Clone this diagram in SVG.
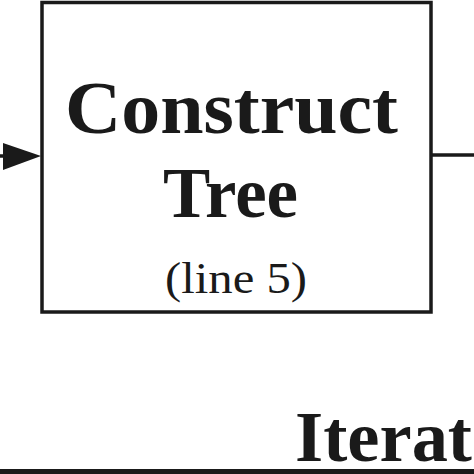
<svg xmlns="http://www.w3.org/2000/svg" width="474" height="474" viewBox="0 0 474 474">
<style>
.ln{stroke:#1a1a1a;stroke-width:3.5;fill:none}
.t{font-family:"Liberation Serif","Times New Roman",serif;fill:#1a1a1a}
.b{font-weight:bold}
</style>
<rect width="474" height="474" fill="#fff"/>
<g id="connectors">
<line class="ln" x1="0" y1="156" x2="10" y2="156"/>
<polygon points="3,143 41,156 3,170" fill="#1a1a1a"/>
<line class="ln" x1="431" y1="155" x2="474" y2="155"/>
</g>
<g id="construct-tree">
<rect class="ln" x="42" y="2.5" width="389" height="309.5"/>
<text class="t b" x="231.5" y="133" font-size="75" text-anchor="middle" textLength="333" lengthAdjust="spacingAndGlyphs">Construct</text>
<text class="t b" x="230.5" y="217" font-size="72" text-anchor="middle" textLength="135" lengthAdjust="spacingAndGlyphs">Tree</text>
<text class="t" x="236" y="293" font-size="44" text-anchor="middle" textLength="142" lengthAdjust="spacingAndGlyphs">(line 5)</text>
</g>
<g id="iteration">
<text class="t b" x="295" y="461" font-size="72" textLength="177" lengthAdjust="spacingAndGlyphs">Iterat</text>
<rect x="0" y="469" width="474" height="6" fill="#1a1a1a"/>
</g>
</svg>
